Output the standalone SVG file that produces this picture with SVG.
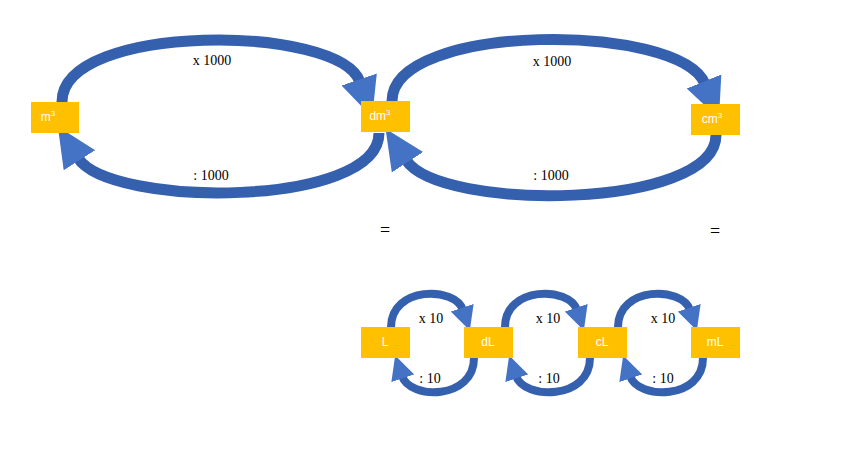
<svg xmlns="http://www.w3.org/2000/svg" width="854" height="454" viewBox="0 0 854 454">
<style>
.box{fill:#FFC000}
.bt{fill:#fff;font-family:"Liberation Sans",Arial,sans-serif;font-size:12px;text-anchor:middle}
.lb{fill:#000;font-family:"Liberation Serif","Times New Roman",serif;font-size:14px;text-anchor:middle}
.eq{font-size:18px}
.big{fill:none;stroke:#3560AE;stroke-width:11}
.sm{fill:none;stroke:#3560AE;stroke-width:8}
</style>
<defs>
<marker id="ab" markerUnits="userSpaceOnUse" markerWidth="40" markerHeight="40" refX="2" refY="14" orient="auto" viewBox="0 0 30 28">
<path d="M0,0 L30,14 L0,28 Z" fill="#4472C4"/>
</marker>
<marker id="as" markerUnits="userSpaceOnUse" markerWidth="24" markerHeight="24" refX="2" refY="10" orient="auto" viewBox="0 0 20 20">
<path d="M0,0 L20,10 L0,20 Z" fill="#4472C4"/>
</marker>
</defs>
<rect width="854" height="454" fill="#fff"/>
<g id="connectors">
<path class="big" d="M62,102 C62,22 340,24 360,82" marker-end="url(#ab)"/>
<path class="big" d="M379,133 C379,208 110,208 78,158" marker-end="url(#ab)"/>
<path class="big" d="M392,101 C392,22 680,22 705,84" marker-end="url(#ab)"/>
<path class="big" d="M716,135 C716,210 440,212 406,160" marker-end="url(#ab)"/>
<path class="sm" d="M391,327 C391,286 455,286 463,310" marker-end="url(#as)"/>
<path class="sm" d="M474,358 C474,400 410,400 402,376" marker-end="url(#as)"/>
<path class="sm" d="M505,327 C505,286 569,286 577,310" marker-end="url(#as)"/>
<path class="sm" d="M590,358 C590,400 524,400 516,376" marker-end="url(#as)"/>
<path class="sm" d="M618,327 C618,286 682,286 690,310" marker-end="url(#as)"/>
<path class="sm" d="M703,358 C703,400 638,400 630,376" marker-end="url(#as)"/>
</g>
<g id="m3"><rect class="box" x="31" y="102" width="48" height="31"/><text class="bt" x="48" y="121">m<tspan font-size="8" dy="-5">3</tspan></text></g>
<g id="dm3"><rect class="box" x="361" y="101" width="49" height="31"/><text class="bt" x="380" y="120">dm<tspan font-size="8" dy="-5">3</tspan></text></g>
<g id="cm3"><rect class="box" x="691" y="104" width="49" height="31"/><text class="bt" x="712" y="123">cm<tspan font-size="8" dy="-5">3</tspan></text></g>
<g id="L"><rect class="box" x="361" y="327" width="49" height="31"/><text class="bt" x="385" y="346">L</text></g>
<g id="dL"><rect class="box" x="464" y="327" width="49" height="31"/><text class="bt" x="488" y="346">dL</text></g>
<g id="cL"><rect class="box" x="578" y="327" width="49" height="31"/><text class="bt" x="602" y="346">cL</text></g>
<g id="mL"><rect class="box" x="691" y="327" width="49" height="31"/><text class="bt" x="715" y="346">mL</text></g>
<g id="labels">
<text class="lb" x="212" y="65">x 1000</text>
<text class="lb" x="211" y="180">: 1000</text>
<text class="lb" x="552" y="66">x 1000</text>
<text class="lb" x="551" y="180">: 1000</text>
<text class="lb eq" x="385" y="236">=</text>
<text class="lb eq" x="715" y="237">=</text>
<text class="lb" x="431" y="323">x 10</text>
<text class="lb" x="548" y="323">x 10</text>
<text class="lb" x="663" y="323">x 10</text>
<text class="lb" x="430" y="383">: 10</text>
<text class="lb" x="549" y="383">: 10</text>
<text class="lb" x="663" y="383">: 10</text>
</g>
</svg>
